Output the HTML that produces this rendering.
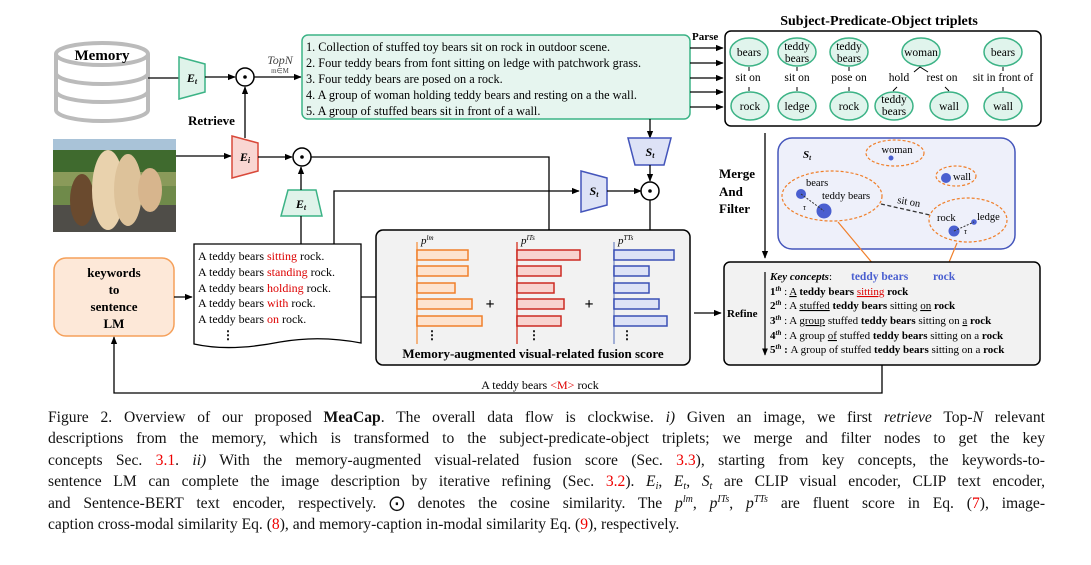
<!DOCTYPE html>
<html><head><meta charset="utf-8"><style>
body{margin:0;background:#fff;width:1091px;height:565px;overflow:hidden;position:relative}
svg{position:absolute;left:0;top:0}
svg text{font-family:"Liberation Serif",serif}
.cap{position:absolute;left:48px;width:997px;height:21px;font-family:"Liberation Serif",serif;font-size:15.6px;line-height:21px;color:#111;text-align:justify;text-align-last:justify;white-space:nowrap}
.cap sup,.cap sub{font-size:10px;line-height:0;position:relative;vertical-align:baseline}
.cap sup{top:-6px}.cap sub{top:3px}
.r{color:#e00}
</style></head><body>
<svg width="1091" height="565" viewBox="0 0 1091 565">
<defs>
<marker id="a" viewBox="0 0 10 10" refX="9" refY="5" markerWidth="6" markerHeight="6" orient="auto"><path d="M0,1 L10,5 L0,9 z" fill="#000"/></marker>
<marker id="o" viewBox="0 0 10 10" refX="9" refY="5" markerWidth="6" markerHeight="6" orient="auto"><path d="M0,1 L10,5 L0,9 z" fill="#f07f2a"/></marker>
</defs>
<!-- Memory cylinder -->
<g fill="#fff" stroke="#bbb" stroke-width="4">
<path d="M56,54 v56 a46,11 0 0 0 92,0 v-56"/>
<path d="M56,73 a46,11 0 0 0 92,0"/>
<path d="M56,91 a46,11 0 0 0 92,0"/>
<ellipse cx="102" cy="54" rx="46" ry="11"/>
</g>
<text x="102" y="60" font-size="15" font-weight="bold" text-anchor="middle">Memory</text>
<line x1="148" y1="78" x2="179" y2="78" stroke="#000" stroke-width="1.3"/>
<!-- Et1 -->
<path d="M179,57 L205,64 L205,92 L179,99 z" fill="#dff3ea" stroke="#3cb386" stroke-width="1.5"/>
<text x="192" y="82" font-size="12" font-weight="bold" font-style="italic" text-anchor="middle">E<tspan font-size="8" dy="2">t</tspan></text>
<line x1="205" y1="77" x2="235" y2="77" stroke="#000" stroke-width="1.3" marker-end="url(#a)"/>
<circle cx="245" cy="77" r="9" fill="#fff" stroke="#000" stroke-width="1.5"/><circle cx="245" cy="77" r="1.8"/>
<line x1="254" y1="77" x2="301" y2="77" stroke="#000" stroke-width="1.3" marker-end="url(#a)"/>
<text x="280" y="64" font-size="12" font-style="italic" fill="#444" text-anchor="middle">TopN</text>
<text x="280" y="73" font-size="7" fill="#444" text-anchor="middle">m∈M</text>
<!-- green box -->
<rect x="302" y="35" width="388" height="84" rx="6" fill="#e6f5ef" stroke="#3cb386" stroke-width="1.5"/>
<g font-size="12.3">
<text x="306" y="51">1. Collection of stuffed toy bears sit on rock in outdoor scene.</text>
<text x="306" y="67">2. Four teddy bears from font sitting on ledge with patchwork grass.</text>
<text x="306" y="83">3. Four teddy bears are posed on a rock.</text>
<text x="306" y="99">4. A group of woman holding teddy bears and resting on a the wall.</text>
<text x="306" y="115">5. A group of stuffed bears sit in front of a wall.</text>
</g>
<text x="692" y="40" font-size="11" font-weight="bold">Parse</text>
<g stroke="#000" stroke-width="1.3" marker-end="url(#a)">
<line x1="690" y1="48" x2="723" y2="48"/><line x1="690" y1="63" x2="723" y2="63"/><line x1="690" y1="78" x2="723" y2="78"/><line x1="690" y1="92" x2="723" y2="92"/><line x1="690" y1="107" x2="723" y2="107"/>
</g>
<!-- triplets -->
<text x="879" y="25" font-size="14" font-weight="bold" text-anchor="middle">Subject-Predicate-Object triplets</text>
<rect x="725" y="31" width="316" height="95" rx="6" fill="#fff" stroke="#000" stroke-width="1.5"/>
<g fill="#e0f4ec" stroke="#3cb386" stroke-width="1.5">
<ellipse cx="749" cy="52" rx="19" ry="14"/><ellipse cx="797" cy="52" rx="19" ry="14"/><ellipse cx="849" cy="52" rx="19" ry="14"/><ellipse cx="921" cy="52" rx="19" ry="14"/><ellipse cx="1003" cy="52" rx="19" ry="14"/>
<ellipse cx="750" cy="106" rx="19" ry="14"/><ellipse cx="797" cy="106" rx="19" ry="14"/><ellipse cx="849" cy="106" rx="19" ry="14"/><ellipse cx="894" cy="106" rx="19" ry="14"/><ellipse cx="949" cy="106" rx="19" ry="14"/><ellipse cx="1003" cy="106" rx="19" ry="14"/>
</g>
<g stroke="#000" stroke-width="1">
<line x1="749" y1="67" x2="749" y2="71"/><line x1="749" y1="87" x2="749" y2="91"/>
<line x1="797" y1="67" x2="797" y2="71"/><line x1="797" y1="87" x2="797" y2="91"/>
<line x1="849" y1="67" x2="849" y2="71"/><line x1="849" y1="87" x2="849" y2="91"/>
<line x1="1003" y1="67" x2="1003" y2="71"/><line x1="1003" y1="87" x2="1003" y2="91"/>
<path d="M914,72 L920,67 L928,72" fill="none"/><line x1="897" y1="87" x2="893" y2="91"/><line x1="945" y1="87" x2="949" y2="91"/>
</g>
<g font-size="11.5" text-anchor="middle">
<text x="749" y="56">bears</text><text x="797" y="50">teddy</text><text x="797" y="62">bears</text><text x="849" y="50">teddy</text><text x="849" y="62">bears</text><text x="921" y="56">woman</text><text x="1003" y="56">bears</text>
<text x="750" y="110">rock</text><text x="797" y="110">ledge</text><text x="849" y="110">rock</text><text x="894" y="103">teddy</text><text x="894" y="115">bears</text><text x="949" y="110">wall</text><text x="1003" y="110">wall</text>
<text x="748" y="81">sit on</text><text x="797" y="81">sit on</text><text x="849" y="81">pose on</text><text x="899" y="81">hold</text><text x="942" y="81">rest on</text><text x="1003" y="81">sit in front of</text>
</g>
<!-- merge and filter -->
<line x1="765" y1="133" x2="765" y2="258" stroke="#000" stroke-width="1.3" marker-end="url(#a)"/>
<g font-size="13" font-weight="bold"><text x="719" y="178">Merge</text><text x="719" y="196">And</text><text x="719" y="213">Filter</text></g>
<rect x="778" y="138" width="237" height="111" rx="14" fill="#eef0fa" stroke="#4455bb" stroke-width="1.5"/>
<text x="803" y="158" font-size="11" font-weight="bold" font-style="italic">S<tspan font-size="7" dy="2">t</tspan></text>
<g fill="none" stroke="#f07f2a" stroke-width="1.2" stroke-dasharray="3,2">
<ellipse cx="895" cy="153" rx="29" ry="13"/><ellipse cx="956" cy="176" rx="20" ry="10"/><ellipse cx="832" cy="196" rx="50" ry="25"/><ellipse cx="968" cy="220" rx="39" ry="22"/>
</g>
<g fill="#4a5fd0"><circle cx="891" cy="158" r="2.5"/><circle cx="946" cy="178" r="5"/><circle cx="801" cy="194" r="5"/><circle cx="824" cy="211" r="7.5"/><circle cx="954" cy="231" r="5.5"/><circle cx="974" cy="222" r="2.8"/></g>
<g stroke="#333" stroke-dasharray="2,1.5" stroke-width="1"><line x1="801" y1="194" x2="824" y2="211"/><line x1="954" y1="231" x2="974" y2="222"/><line x1="881" y1="204" x2="930" y2="215" stroke-dasharray="4,2.5" stroke-width="1.3"/></g>
<g font-size="10.5"><text x="806" y="186">bears</text><text x="822" y="199">teddy bears</text><text x="897" y="153" text-anchor="middle">woman</text><text x="953" y="180">wall</text><text x="937" y="221">rock</text><text x="977" y="220">ledge</text><text x="897" y="203" transform="rotate(10 897 203)">sit on</text><text x="803" y="210" font-size="8" font-style="italic">τ</text><text x="964" y="234" font-size="8" font-style="italic">τ</text></g>
<g stroke="#f07f2a" stroke-width="1.2" marker-end="url(#o)"><line x1="838" y1="222" x2="879" y2="271"/><line x1="957" y1="243" x2="945" y2="272"/></g>
<!-- refine box -->
<rect x="724" y="262" width="316" height="103" rx="6" fill="#f2f2f2" stroke="#000" stroke-width="1.5"/>
<text x="727" y="317" font-size="11" font-weight="bold">Refine</text>
<line x1="765" y1="272" x2="765" y2="355" stroke="#000" stroke-width="1.2" marker-end="url(#a)"/>
<g font-size="11">
<text x="770" y="280"><tspan font-weight="bold" font-style="italic">Key concepts</tspan>:</text>
<text x="851" y="280" font-weight="bold" fill="#4a5fd0" font-size="11.5">teddy bears</text><text x="933" y="280" font-weight="bold" fill="#4a5fd0" font-size="11.5">rock</text>
<text x="770" y="295"><tspan font-weight="bold">1<tspan font-size="7" dy="-4" font-style="italic">th</tspan></tspan><tspan dy="4"> : </tspan><tspan text-decoration="underline">A</tspan> <tspan font-weight="bold">teddy bears</tspan> <tspan fill="#d00" text-decoration="underline">sitting</tspan> <tspan font-weight="bold">rock</tspan></text>
<text x="770" y="309"><tspan font-weight="bold">2<tspan font-size="7" dy="-4" font-style="italic">th</tspan></tspan><tspan dy="4"> : A </tspan><tspan text-decoration="underline">stuffed</tspan> <tspan font-weight="bold">teddy bears</tspan> sitting <tspan text-decoration="underline">on</tspan> <tspan font-weight="bold">rock</tspan></text>
<text x="770" y="324"><tspan font-weight="bold">3<tspan font-size="7" dy="-4" font-style="italic">th</tspan></tspan><tspan dy="4"> : A </tspan><tspan text-decoration="underline">group</tspan> stuffed <tspan font-weight="bold">teddy bears</tspan> sitting on <tspan text-decoration="underline">a</tspan> <tspan font-weight="bold">rock</tspan></text>
<text x="770" y="339"><tspan font-weight="bold">4<tspan font-size="7" dy="-4" font-style="italic">th</tspan></tspan><tspan dy="4"> : A group </tspan><tspan text-decoration="underline">of</tspan> stuffed <tspan font-weight="bold">teddy bears</tspan> sitting on a <tspan font-weight="bold">rock</tspan></text>
<text x="770" y="353"><tspan font-weight="bold">5<tspan font-size="7" dy="-4" font-style="italic">th</tspan></tspan><tspan dy="4" font-weight="bold"> : </tspan>A group of stuffed <tspan font-weight="bold">teddy bears</tspan> sitting on a <tspan font-weight="bold">rock</tspan></text>
</g>
<!-- Retrieve -->
<text x="188" y="125" font-size="13" font-weight="bold">Retrieve</text>
<line x1="245" y1="138" x2="245" y2="87" stroke="#000" stroke-width="1.3" marker-end="url(#a)"/>
<!-- image -->
<rect x="53" y="139" width="123" height="93" fill="#6f8a4a"/>
<rect x="53" y="139" width="123" height="22" fill="#a9c3d8"/>
<rect x="53" y="150" width="123" height="22" fill="#3f6a2e"/>
<rect x="53" y="172" width="123" height="14" fill="#8a9a5a"/>
<rect x="53" y="205" width="123" height="27" fill="#4f4d48"/>
<ellipse cx="82" cy="200" rx="12" ry="26" fill="#6a4a2e"/>
<ellipse cx="108" cy="190" rx="16" ry="40" fill="#e9d2ad"/>
<ellipse cx="128" cy="190" rx="14" ry="36" fill="#ddc29a"/>
<ellipse cx="150" cy="190" rx="12" ry="22" fill="#d7b58d"/>
<line x1="176" y1="156" x2="231" y2="156" stroke="#000" stroke-width="1.3" marker-end="url(#a)"/>
<!-- Ei -->
<path d="M232,136 L258,143 L258,171 L232,178 z" fill="#f9d6d2" stroke="#d9493a" stroke-width="1.5"/>
<text x="245" y="161" font-size="12" font-weight="bold" font-style="italic" text-anchor="middle">E<tspan font-size="8" dy="2">i</tspan></text>
<line x1="258" y1="157" x2="292" y2="157" stroke="#000" stroke-width="1.3" marker-end="url(#a)"/>
<circle cx="302" cy="157" r="9" fill="#fff" stroke="#000" stroke-width="1.5"/><circle cx="302" cy="157" r="1.8"/>
<polyline points="311,157 549,157 549,250" fill="none" stroke="#000" stroke-width="1.3" marker-end="url(#a)"/>
<!-- Et2 -->
<path d="M288,190 L316,190 L322,216 L281,216 z" fill="#dff3ea" stroke="#3cb386" stroke-width="1.5"/>
<text x="301" y="208" font-size="12" font-weight="bold" font-style="italic" text-anchor="middle">E<tspan font-size="8" dy="2">t</tspan></text>
<line x1="301" y1="190" x2="301" y2="167" stroke="#000" stroke-width="1.3" marker-end="url(#a)"/>
<line x1="301" y1="244" x2="301" y2="216" stroke="#000" stroke-width="1.3"/>
<polyline points="334,244 334,191 579,191" fill="none" stroke="#000" stroke-width="1.3" marker-end="url(#a)"/>
<!-- St2 -->
<path d="M581,171 L607,178 L607,205 L581,212 z" fill="#dde2f6" stroke="#4455bb" stroke-width="1.5"/>
<text x="594" y="195" font-size="12" font-weight="bold" font-style="italic" text-anchor="middle">S<tspan font-size="8" dy="2">t</tspan></text>
<line x1="607" y1="191" x2="641" y2="191" stroke="#000" stroke-width="1.3" marker-end="url(#a)"/>
<!-- St1 -->
<line x1="650" y1="119" x2="650" y2="138" stroke="#000" stroke-width="1.3" marker-end="url(#a)"/>
<path d="M628,138 L671,138 L664,165 L635,165 z" fill="#dde2f6" stroke="#4455bb" stroke-width="1.5"/>
<text x="650" y="156" font-size="12" font-weight="bold" font-style="italic" text-anchor="middle">S<tspan font-size="8" dy="2">t</tspan></text>
<line x1="650" y1="165" x2="650" y2="181" stroke="#000" stroke-width="1.3" marker-end="url(#a)"/>
<circle cx="650" cy="191" r="9" fill="#fff" stroke="#000" stroke-width="1.5"/><circle cx="650" cy="191" r="1.8"/>
<line x1="650" y1="200" x2="650" y2="250" stroke="#000" stroke-width="1.3" marker-end="url(#a)"/>
<!-- keywords LM -->
<rect x="54" y="258" width="120" height="78" rx="12" fill="#fde8d8" stroke="#f5a05a" stroke-width="1.5"/>
<g font-size="13" font-weight="bold" text-anchor="middle"><text x="114" y="277">keywords</text><text x="114" y="294">to</text><text x="114" y="311">sentence</text><text x="114" y="328">LM</text></g>
<line x1="174" y1="297" x2="192" y2="297" stroke="#000" stroke-width="1.3" marker-end="url(#a)"/>
<!-- doc -->
<path d="M194,244 L361,244 L361,343 Q320,335 280,342 Q230,352 194,344 z" fill="#fff" stroke="#000" stroke-width="1.3"/>
<g font-size="12">
<text x="198" y="260">A teddy bears <tspan fill="#d00">sitting</tspan> rock.</text>
<text x="198" y="276">A teddy bears <tspan fill="#d00">standing</tspan> rock.</text>
<text x="198" y="292">A teddy bears <tspan fill="#d00">holding</tspan> rock.</text>
<text x="198" y="307">A teddy bears <tspan fill="#d00">with</tspan> rock.</text>
<text x="198" y="323">A teddy bears <tspan fill="#d00">on</tspan> rock.</text>
<text x="222" y="339" font-weight="bold">⋮</text>
</g>
<line x1="361" y1="297" x2="415" y2="297" stroke="#000" stroke-width="1.3" marker-end="url(#a)"/>
<!-- fusion box -->
<rect x="376" y="230" width="314" height="135" rx="7" fill="#f2f2f2" stroke="#000" stroke-width="1.5"/>
<g stroke-width="1.5">
<line x1="417" y1="242" x2="417" y2="344" stroke="#f5a05a"/>
<line x1="517" y1="242" x2="517" y2="344" stroke="#d9493a"/>
<line x1="614" y1="242" x2="614" y2="344" stroke="#8899cc"/>
<g fill="#fde3cf" stroke="#f07f2a"><rect x="417" y="250" width="51" height="10"/><rect x="417" y="266" width="51" height="10"/><rect x="417" y="283" width="38" height="10"/><rect x="417" y="299" width="55" height="10"/><rect x="417" y="316" width="65" height="10"/></g>
<g fill="#f8d3cf" stroke="#cc2a22"><rect x="517" y="250" width="63" height="10"/><rect x="517" y="266" width="44" height="10"/><rect x="517" y="283" width="37" height="10"/><rect x="517" y="299" width="47" height="10"/><rect x="517" y="316" width="44" height="10"/></g>
<g fill="#dde2f6" stroke="#3a4fb5"><rect x="614" y="250" width="60" height="10"/><rect x="614" y="266" width="35" height="10"/><rect x="614" y="283" width="35" height="10"/><rect x="614" y="299" width="45" height="10"/><rect x="614" y="316" width="53" height="10"/></g>
</g>
<g font-size="11" font-style="italic"><text x="421" y="244">p<tspan font-size="7" dy="-4">lm</tspan></text><text x="521" y="244">p<tspan font-size="7" dy="-4">ITs</tspan></text><text x="618" y="244">p<tspan font-size="7" dy="-4">TTs</tspan></text></g>
<g font-size="16" font-weight="bold" text-anchor="middle"><text x="490" y="309">+</text><text x="589" y="309">+</text></g>
<g font-size="12" font-weight="bold" text-anchor="middle"><text x="432" y="339">⋮</text><text x="534" y="339">⋮</text><text x="627" y="339">⋮</text></g>
<text x="533" y="358" font-size="13" font-weight="bold" text-anchor="middle">Memory-augmented visual-related fusion score</text>
<line x1="694" y1="313" x2="721" y2="313" stroke="#000" stroke-width="1.3" marker-end="url(#a)"/>
<!-- feedback -->
<polyline points="882,365 882,393 114,393 114,337" fill="none" stroke="#000" stroke-width="1.3" marker-end="url(#a)"/>
<text x="540" y="389" font-size="12" text-anchor="middle">A teddy bears <tspan fill="#d00">&lt;M&gt;</tspan> rock</text>
</svg>
<div class="cap" style="top:407px">Figure 2. Overview of our proposed <b>MeaCap</b>. The overall data flow is clockwise. <i>i)</i> Given an image, we first <i>retrieve</i> Top-<i>N</i> relevant</div>
<div class="cap" style="top:428px">descriptions from the memory, which is transformed to the subject-predicate-object triplets; we merge and filter nodes to get the key</div>
<div class="cap" style="top:450px">concepts Sec. <span class="r">3.1</span>. <i>ii)</i> With the memory-augmented visual-related fusion score (Sec. <span class="r">3.3</span>), starting from key concepts, the keywords-to-</div>
<div class="cap" style="top:471px">sentence LM can complete the image description by iterative refining (Sec. <span class="r">3.2</span>). <i>E<sub>i</sub></i>, <i>E<sub>t</sub></i>, <i>S<sub>t</sub></i> are CLIP visual encoder, CLIP text encoder,</div>
<div class="cap" style="top:493px">and Sentence-BERT text encoder, respectively. ⨀ denotes the cosine similarity. The <i>p<sup>lm</sup></i>, <i>p<sup>ITs</sup></i>, <i>p<sup>TTs</sup></i> are fluent score in Eq. (<span class="r">7</span>), image-</div>
<div class="cap" style="top:514px;text-align:left;text-align-last:left">caption cross-modal similarity Eq. (<span class="r">8</span>), and memory-caption in-modal similarity Eq. (<span class="r">9</span>), respectively.</div>
</body></html>
